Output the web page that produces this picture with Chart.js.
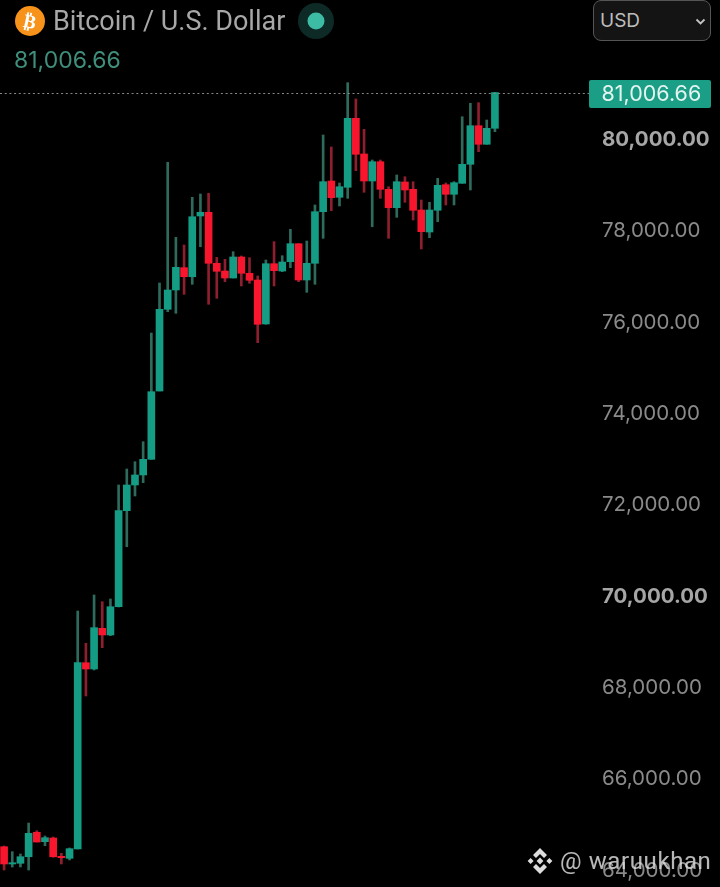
<!DOCTYPE html>
<html>
<head>
<meta charset="utf-8">
<title>Bitcoin / U.S. Dollar</title>
<script src="https://cdn.jsdelivr.net/npm/chart.js@4/dist/chart.umd.js"></script>
<style>
  html, body { margin: 0; padding: 0; background: #000; }
  #wrap { position: relative; width: 720px; height: 887px; overflow: hidden; font-family: Roboto, sans-serif; }
  canvas { position: absolute; left: 0; top: 0; }
  .abs { position: absolute; white-space: nowrap; }
  #title { left: 53px; top: 5px; font-size: 27px; line-height: 32px; color: #a8a8a8; }
  #price { left: 14px; top: 46px; font-family: Inter, sans-serif; font-size: 23px; line-height: 28px; color: #3f8f7c; }
  #usd { left: 593px; top: 0; width: 118px; height: 41px; box-sizing: border-box; border: 1.5px solid #555; border-radius: 8px; background: #141414; }
  #usdText { left: 600px; top: 8px; font-family: Inter, sans-serif; font-size: 19px; line-height: 26px; color: #bdbdbd; }
  #mark { left: 560px; top: 846px; font-size: 24px; line-height: 30px; color: rgba(225,225,225,0.82); letter-spacing: 0.6px; }
  svg.abs { overflow: visible; }
</style>
</head>
<body>
<div id="wrap">
  <canvas id="chart" width="720" height="887"></canvas>

  <svg class="abs" style="left:15px;top:6px" width="30" height="30" viewBox="0 0 30 30">
    <circle cx="15" cy="15" r="15" fill="#f7931a"/>
    <text x="15" y="22" text-anchor="middle" font-family="DejaVu Sans" font-weight="bold" font-size="19" fill="#fff" transform="rotate(12 15 15)">₿</text>
  </svg>
  <div id="title" class="abs">Bitcoin / U.S. Dollar</div>
  <svg class="abs" style="left:298px;top:3px" width="36" height="36" viewBox="0 0 36 36">
    <circle cx="18" cy="18" r="18" fill="#0d2a27"/>
    <circle cx="18" cy="18" r="8.5" fill="#3dbca5"/>
  </svg>
  <div id="price" class="abs">81,006.66</div>

  <div id="usd" class="abs"></div>
  <div id="usdText" class="abs">USD</div>
  <svg class="abs" style="left:695px;top:18px" width="11" height="8" viewBox="0 0 11 8">
    <path d="M1.5 1.5 L5.5 5.5 L9.5 1.5" fill="none" stroke="#c4c4c4" stroke-width="1.8"/>
  </svg>

  <svg class="abs" style="left:526px;top:847px" width="28" height="28" viewBox="0 0 28 28" fill="#dcdcdc">
    <path d="M14 1 L21 8 L18 11 L14 7 L10 11 L7 8 Z"/>
    <path d="M14 27 L21 20 L18 17 L14 21 L10 17 L7 20 Z"/>
    <path d="M14 10.6 L17.4 14 L14 17.4 L10.6 14 Z"/>
    <path d="M4.6 11 L7.6 14 L4.6 17 L1.6 14 Z"/>
    <path d="M23.4 11 L26.4 14 L23.4 17 L20.4 14 Z"/>
  </svg>
  <div id="mark" class="abs">@ waruukhan</div>
</div>

<script>
const opens = [64490,64112,64127,64271,64806,64600,64681,64280,64236,64440,68520,68382,69273,69127,69746,71849,72412,72631,72974,74470,76259,76682,77171,76973,78303,78384,77267,77098,76945,77405,77048,76901,75938,77258,77098,77302,77696,76901,77267,78397,79069,78712,78931,80442,79661,79069,79492,78887,78485,79047,78887,78434,77952,78428,78988,78778,79019,79435,80280,79873,80223];
const closes = [64112,64140,64271,64784,64593,64688,64271,64250,64447,68520,68382,69287,69127,69746,71849,72412,72631,72974,74455,76259,76682,77179,76973,78287,78384,77267,77092,76945,77405,77048,76895,75931,77258,77105,77295,77696,76901,77267,78397,79054,78704,78944,80442,79654,79069,79492,78887,78485,79054,78872,78428,77959,78434,78975,78778,79032,79435,80280,79873,80223,81006.66];
const highs = [64506,64381,64331,65009,64841,64725,64703,64346,64462,69652,68945,70003,69856,69915,72412,72762,72922,73360,75740,76835,79479,77836,77668,78712,78785,78800,77398,77354,77521,77427,77390,76989,77339,77740,77433,78011,77696,77755,78544,80077,79814,79025,81222,80865,80201,79529,79529,78944,79201,79163,79054,78653,78603,79128,79025,79054,80477,80771,80784,80405,81012];
const lows = [63980,64046,64046,63980,64593,64512,64258,64112,64199,64440,67791,68360,68849,69111,69740,71060,72171,72462,72974,74470,76207,76172,76588,76807,77630,76369,76500,76864,76945,76770,76829,75528,75931,76770,77083,77171,76864,76632,76807,77814,78419,78522,78690,79295,78822,78068,78690,77814,78274,78603,78215,77580,77828,78178,78544,78544,79019,78872,79711,79873,80149];

const tickValues = [64000,66000,68000,70000,72000,74000,76000,78000,80000];
const boldTicks = [70000,80000];
const lastPrice = 81006.66;
const lastPriceLabel = "81,006.66";
const emptySlots = 11; // room on the right of the last candle

const labels = Array.from({ length: opens.length + emptySlots }, (_, i) => i);
const bodies = opens.map((o, i) => [o, closes[i]]);
const wicks = lows.map((l, i) => [l, highs[i]]);
const isUp = (i) => closes[i] >= opens[i];
const isBold = (ctx) => ctx.tick && boldTicks.includes(ctx.tick.value);

// dotted last price line and the badge on the axis
const priceLine = {
  id: "priceLine",
  afterDatasetsDraw(chart) {
    const c = chart.ctx;
    const y = chart.scales.y.getPixelForValue(lastPrice);
    c.save();
    c.strokeStyle = "#8a8a8a";
    c.lineWidth = 1;
    c.setLineDash([2, 2.7]);
    c.beginPath();
    c.moveTo(0, y + 1);
    c.lineTo(chart.chartArea.right, y + 1);
    c.stroke();
    c.setLineDash([]);
    c.fillStyle = "#1a9e85";
    c.beginPath();
    c.roundRect(589, y - 12.5, 122, 28, 2);
    c.fill();
    c.fillStyle = "#e4f4f0";
    c.font = "21.5px Inter";
    c.textAlign = "left";
    c.textBaseline = "middle";
    c.fillText(lastPriceLabel, 601.5, y + 2);
    c.restore();
  },
};

new Chart(document.getElementById("chart").getContext("2d"), {
  type: "bar",
  plugins: [priceLine],
  data: {
    labels: labels,
    datasets: [
      {
        label: "Wicks",
        data: wicks,
        order: 2,
        barThickness: 2,
        backgroundColor: wicks.map((_, i) => (isUp(i) ? "#2f6b5c" : "#8e1f2f")),
      },
      {
        label: "Bodies",
        data: bodies,
        order: 1,
        barThickness: 7,
        backgroundColor: bodies.map((_, i) => (isUp(i) ? "#149c84" : "#f7162e")),
      },
    ],
  },
  options: {
    responsive: false,
    animation: false,
    devicePixelRatio: 1,
    layout: { padding: 0 },
    datasets: { bar: { grouped: false } },
    plugins: {
      legend: { display: false },
      tooltip: { enabled: false },
    },
    scales: {
      x: { display: false, grid: { display: false } },
      y: {
        position: "right",
        min: 63608,
        max: 83033,
        grid: { display: false, drawTicks: false },
        border: { display: false },
        afterFit(scale) {
          scale.width = 131;
          scale.paddingTop = 0;
          scale.paddingBottom = 0;
        },
        afterBuildTicks(scale) {
          scale.ticks = tickValues.map((value) => ({ value: value }));
        },
        ticks: {
          autoSkip: false,
          padding: 13,
          labelOffset: 1.5,
          color: (ctx) => (isBold(ctx) ? "#a6a6a6" : "#8a8a8a"),
          font: (ctx) => ({
            family: "Inter",
            size: 20.5,
            weight: isBold(ctx) ? "bold" : "normal",
          }),
          callback: (v) => v.toLocaleString("en-US", { minimumFractionDigits: 2 }),
        },
      },
    },
  },
});
</script>
</body>
</html>
